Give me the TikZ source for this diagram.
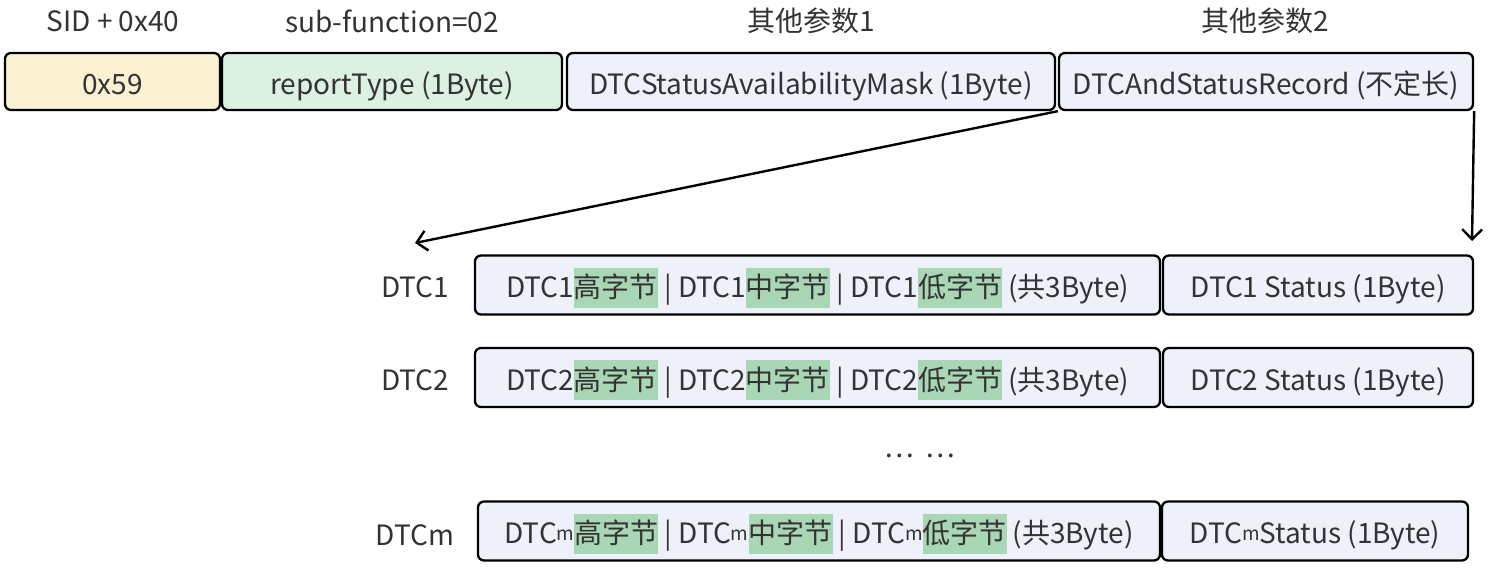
\documentclass[tikz,border=0pt]{standalone}
\usepackage{fontspec}
\setmainfont{Noto Sans CJK SC}
\usetikzlibrary{arrows.meta, positioning, calc}

\definecolor{sidyellow}{HTML}{FAF0D2}
\definecolor{subgreen}{HTML}{DCF1E2}
\definecolor{parlav}{HTML}{EEF1FA}
\definecolor{hlgreen}{HTML}{A9D6B4}
\definecolor{txtgray}{HTML}{333333}

% green marker behind a word
\newcommand{\hlg}[1]{{\setlength{\fboxsep}{0pt}\colorbox{hlgreen}{\rule[-10pt]{0pt}{40pt}#1}}}
% the small m in DTCm
\newcommand{\smm}{\raisebox{3pt}{\fontsize{19}{20}\selectfont m}}

\begin{document}
\begin{tikzpicture}[x=1pt, y=-1pt,
    field/.style={draw=black, line width=2.3pt, rounded corners=6pt,
      minimum height=57pt, inner sep=0pt, text=txtgray,
      text height=28pt, text depth=2.5pt,
      font=\fontsize{28}{33}\selectfont},
    rowbox/.style={field, fill=parlav, minimum height=59pt},
    head/.style={text=txtgray, inner sep=0pt, font=\fontsize{28}{33}\selectfont},
    >={Straight Barb[length=10pt, width=20pt, line width=2.4pt]}]
  \useasboundingbox (0,0) rectangle (1491,574);

  % titles over the frame
  \node[head] (tSid) at (113,21) {SID + 0x40};
  \node[head] (tSub) at (392,21) {sub-function=02};
  \node[head] (tPar1) at (811,21) {其他参数1};
  \node[head] (tPar2) at (1265,21) {其他参数2};

  % response frame
  \node[field, fill=sidyellow, minimum width=215pt] (n59) at (112.5,81.5) {0x59};
  \node[field, fill=subgreen, minimum width=340pt] (nRT) at (392,81.5) {reportType (1Byte)};
  \node[field, fill=parlav, minimum width=488pt] (nMask) at (811,81.5) {DTCStatusAvailabilityMask (1Byte)};
  \node[field, fill=parlav, minimum width=414pt] (nRec) at (1266,81.5) {DTCAndStatusRecord (不定长)};

  % free arrow ends
  \coordinate (tipA) at (415,243);
  \coordinate (tipB) at (1472,241);

  % record rows
  \node[head] (lDtc1) at (415,287) {DTC1};
  \node[rowbox, minimum width=685pt] (dtc1) at (817.5,285)
    {DTC1\hlg{高字节} | DTC1\hlg{中字节} | DTC1\hlg{低字节} (共3Byte)};
  \node[rowbox, minimum width=310pt] (st1) at (1318,285) {DTC1 Status (1Byte)};

  \node[head] (lDtc2) at (415,380) {DTC2};
  \node[rowbox, minimum width=685pt] (dtc2) at (817.5,377.5)
    {DTC2\hlg{高字节} | DTC2\hlg{中字节} | DTC2\hlg{低字节} (共3Byte)};
  \node[rowbox, minimum width=310pt] (st2) at (1318,377.5) {DTC2 Status (1Byte)};

  \node[head] (dots) at (920,456) {…\ \,…};

  \node[head] (lDtcm) at (415,535) {DTCm};
  \node[rowbox, minimum width=682pt] (dtcm) at (819,531)
    {DTC\smm\hlg{高字节} | DTC\smm\hlg{中字节} | DTC\smm\hlg{低字节} (共3Byte)};
  \node[rowbox, minimum width=306pt] (stm) at (1315,531) {DTC\smm Status (1Byte)};

  % where the record goes
  \draw[->, line width=2.4pt] (nRec.south west) -- (tipA);
  \draw[->, line width=2.4pt] (nRec.south east) -- (tipB);
\end{tikzpicture}
\end{document}
